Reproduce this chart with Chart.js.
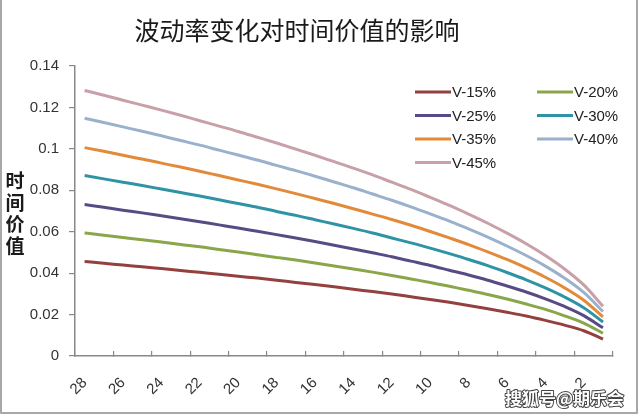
<!DOCTYPE html>
<html>
<head>
<meta charset="utf-8">
<script src="https://cdn.jsdelivr.net/npm/chart.js@4.4.1/dist/chart.umd.min.js"></script>
<style>
  html, body { margin: 0; padding: 0; background: #fff; }
  #wrap { width: 639px; height: 414px; }
</style>
</head>
<body>
<div id="wrap"><canvas id="tv" width="639" height="414"></canvas></div>
<script>
// days to expiry (x categories)
const days = ['28','27','26','25','24','23','22','21','20','19','18','17','16','15','14','13','12','11','10','9','8','7','6','5','4','3','2','1'];

// time value, one array per volatility
const v15 = [0.0456,0.0448,0.0439,0.0431,0.0422,0.0413,0.0404,0.0395,0.0385,0.0376,0.0366,0.0355,0.0345,0.0334,0.0322,0.0311,0.0299,0.0286,0.0273,0.0259,0.0244,0.0228,0.0211,0.0193,0.0172,0.0149,0.0122,0.0082];
const v20 = [0.0594,0.0583,0.0572,0.0561,0.0550,0.0538,0.0527,0.0514,0.0502,0.0489,0.0476,0.0463,0.0449,0.0435,0.0420,0.0405,0.0389,0.0372,0.0355,0.0337,0.0317,0.0297,0.0275,0.0251,0.0225,0.0194,0.0159,0.0110];
const v25 = [0.0731,0.0718,0.0704,0.0691,0.0677,0.0663,0.0648,0.0633,0.0618,0.0602,0.0586,0.0570,0.0553,0.0535,0.0517,0.0498,0.0479,0.0458,0.0437,0.0414,0.0391,0.0366,0.0338,0.0309,0.0276,0.0239,0.0195,0.0136];
const v30 = [0.0871,0.0855,0.0839,0.0823,0.0806,0.0789,0.0772,0.0754,0.0736,0.0718,0.0698,0.0679,0.0658,0.0637,0.0616,0.0594,0.0570,0.0546,0.0521,0.0494,0.0466,0.0436,0.0403,0.0368,0.0329,0.0285,0.0233,0.0164];
const v35 = [0.1006,0.0988,0.0969,0.0951,0.0931,0.0912,0.0892,0.0871,0.0850,0.0829,0.0807,0.0784,0.0760,0.0736,0.0711,0.0685,0.0659,0.0631,0.0601,0.0570,0.0538,0.0503,0.0466,0.0425,0.0380,0.0329,0.0269,0.0189];
const v40 = [0.1148,0.1127,0.1106,0.1085,0.1063,0.1040,0.1018,0.0994,0.0970,0.0946,0.0920,0.0895,0.0868,0.0840,0.0812,0.0782,0.0752,0.0720,0.0686,0.0651,0.0614,0.0574,0.0531,0.0485,0.0434,0.0376,0.0307,0.0215];
const v45 = [0.1282,0.1259,0.1235,0.1211,0.1187,0.1162,0.1136,0.1110,0.1084,0.1056,0.1028,0.0999,0.0969,0.0938,0.0907,0.0874,0.0839,0.0804,0.0766,0.0727,0.0685,0.0641,0.0593,0.0542,0.0485,0.0420,0.0343,0.0240];

const seriesNames = ['V-15%','V-20%','V-25%','V-30%','V-35%','V-40%','V-45%'];
const seriesColors = ['#93403F','#8AA64A','#584B85','#2F93A6','#E38A3A','#9AB1CC','#C8A0A8'];
const seriesData = [v15, v20, v25, v30, v35, v40, v45];

const yMax = 0.14;
const yStep = 0.02;

//title, vertical axis title, two-column legend, watermark and frame
const extras = {
  id: 'extras',
  afterDraw(chart) {
    const ctx = chart.ctx;
    ctx.save();

    ctx.fillStyle = '#1a1a1a';
    ctx.font = '25px "Noto Sans CJK SC"';
    ctx.textAlign = 'center';
    ctx.textBaseline = 'middle';
    ctx.fillText('波动率变化对时间价值的影响', 297, 30);

    ctx.font = 'bold 19px "Noto Sans CJK SC"';
    const yt = ['时','间','价','值'];
    yt.forEach((c, i) => ctx.fillText(c, 15, 181 + i * 21.5));

    // legend
    ctx.font = '15px "Liberation Sans"';
    ctx.textAlign = 'left';
    chart.data.datasets.forEach((ds, i) => {
      const col = i % 2, row = Math.floor(i / 2);
      const x = col === 0 ? 415 : 537;
      const y = 92 + row * 23.5;
      ctx.strokeStyle = ds.borderColor;
      ctx.lineWidth = 3;
      ctx.beginPath();
      ctx.moveTo(x, y);
      ctx.lineTo(x + 36, y);
      ctx.stroke();
      ctx.fillStyle = '#222';
      ctx.fillText(ds.label, x + 37, y + 1);
    });

    // watermark
    ctx.font = 'bold 17px "Noto Sans CJK SC"';
    ctx.textAlign = 'right';
    ctx.lineJoin = 'round';
    ctx.lineWidth = 2;
    ctx.strokeStyle = '#444';
    ctx.strokeText('搜狐号@期乐会', 624, 399);
    ctx.fillStyle = '#fff';
    ctx.fillText('搜狐号@期乐会', 624, 399);

    // frame
    ctx.strokeStyle = '#a8a8a8';
    ctx.lineWidth = 2;
    ctx.beginPath();
    ctx.moveTo(1, 0);
    ctx.lineTo(1, 413);
    ctx.lineTo(637, 413);
    ctx.lineTo(637, 0);
    ctx.stroke();
    ctx.restore();
  }
};

var tvCanvas = document.getElementById('tv');
var tvChart = new Chart(tvCanvas, {
  type: 'line',
  data: {
    labels: days,
    datasets: seriesNames.map((n, i) => ({
      label: n,
      data: seriesData[i],
      borderColor: seriesColors[i],
      backgroundColor: seriesColors[i],
      borderWidth: 3,
      pointRadius: 0,
      cubicInterpolationMode: 'monotone'
    }))
  },
  options: {
    responsive: false,
    animation: false,
    layout: { padding: { top: 66, right: 17, left: 0, bottom: 0 } },
    plugins: {
      legend: { display: false },
      title: { display: false },
      tooltip: { enabled: false }
    },
    scales: {
      x: {
        offset: true,
        afterFit: s => { s.height = 58; },
        border: { display: true, color: '#888', width: 1.5 },
        grid: {
          offset: true,
          drawOnChartArea: false,
          drawTicks: true,
          tickLength: -5,
          lineWidth: 1.2,
          color: c => (c.index === undefined || c.index % 2 === 0) ? '#888' : 'rgba(0,0,0,0)'
        },
        ticks: {
          autoSkip: false,
          minRotation: 45,
          maxRotation: 45,
          padding: 23,
          color: '#333',
          font: { family: 'Liberation Sans', size: 15 },
          callback: function (val, i) { return i % 2 === 0 ? days[i] : ''; }
        }
      },
      y: {
        min: 0,
        max: yMax,
        afterFit: s => { s.width = 75; },
        border: { display: true, color: '#888', width: 1.5 },
        grid: {
          drawOnChartArea: false,
          drawTicks: true,
          tickLength: 6,
          lineWidth: 1.2,
          color: '#888'
        },
        ticks: {
          stepSize: yStep,
          padding: 10,
          color: '#333',
          font: { family: 'Liberation Sans', size: 15 },
          callback: v => String(+v.toFixed(2))
        }
      }
    }
  },
  plugins: [extras]
});
</script>
</body>
</html>
